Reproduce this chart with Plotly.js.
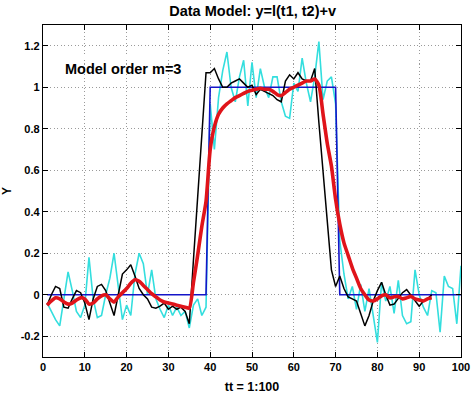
<!DOCTYPE html>
<html>
<head>
<meta charset="utf-8">
<script src="https://cdn.plot.ly/plotly-3.0.1.min.js"></script>
<style>
html,body{margin:0;padding:0;background:#fff;}
#chart{width:474px;height:394px;}
</style>
</head>
<body>
<div id="chart"></div>
<script>
// sample index tt = 1:100
var tt = Array.from({length: 100}, function (_, i) { return i + 1; });

// ideal step signal l(t1, t2)
var ideal = [
  0,0,0,0,0,0,0,0,0,0, 0,0,0,0,0,0,0,0,0,0,
  0,0,0,0,0,0,0,0,0,0, 0,0,0,0,0,0,0,0,0,1,
  1,1,1,1,1,1,1,1,1,1, 1,1,1,1,1,1,1,1,1,1,
  1,1,1,1,1,1,1,1,1,1, 0,0,0,0,0,0,0,0,0,0,
  0,0,0,0,0,0,0,0,0,0, 0,0,0,0,0,0,0,0,0,0
];

// noisy measurement y
var noisy = [
  -0.04,-0.08,-0.12,-0.15,-0.02, 0.11, 0.02,-0.08,-0.11,-0.05,
   0.18,-0.02,-0.11,-0.10, 0.00, 0.08, 0.20, 0.05,-0.12,-0.05,
  -0.10, 0.10, 0.20, 0.15, 0.00, 0.12,-0.02,-0.07,-0.11,-0.05,
  -0.10,-0.06,-0.10,-0.08,-0.16,-0.05,-0.02,-0.10,-0.06, 0.92,
   0.70, 0.95, 1.08, 1.17, 1.00, 0.93, 1.05, 1.13, 0.91, 1.12,
   0.95, 1.09, 1.00, 0.95, 1.05, 1.05, 0.93, 0.86, 0.85, 1.02,
   0.98, 1.14, 1.02, 0.93, 1.05, 1.22, 0.94, 1.03, 1.05, 0.92,
   0.26, 0.10,-0.02, 0.04,-0.07, 0.05,-0.08, 0.03,-0.10,-0.23,
   0.06,-0.03, 0.04,-0.09, 0.07,-0.10,-0.14,-0.13, 0.12, 0.00,
  -0.06,-0.10, 0.02, 0.01,-0.18, 0.09, 0.04, 0.03,-0.14, 0.14
];

// first estimate (black)
var estimate = [
  -0.05, 0.00, 0.04, 0.03,-0.06,-0.065,-0.02, 0.02, 0.01,-0.04,
  -0.12,-0.02, 0.04, 0.05, 0.02,-0.04,-0.10, 0.00, 0.10, 0.12,
   0.145, 0.09, 0.03, 0.00,-0.02,-0.06,-0.065,-0.055,-0.04,-0.07,
  -0.055,-0.07,-0.06,-0.08,-0.14, 0.17, 0.48, 0.78, 1.07, 1.07,
   1.09, 1.04, 1.00, 1.00, 1.02, 1.03, 1.04, 1.02, 1.00, 1.01,
   0.965, 0.99, 0.98, 0.97, 0.96, 0.94, 0.93, 1.03, 1.06, 1.04,
   1.07, 1.04, 1.03, 1.03, 1.09, 0.83, 0.60, 0.35, 0.12, 0.04,
   0.09, 0.03,-0.01,-0.02,-0.03,-0.09,-0.15,-0.10,-0.03, 0.02,
   0.06, 0.00,-0.05,-0.045,-0.02, 0.01, 0.025, 0.00,-0.03,-0.055,
  -0.03,-0.02, 0.00
];

// model output, order m=3 (red)
var model = [
  -0.05,-0.03,-0.015,-0.02,-0.035,-0.045,-0.04,-0.025,-0.015,-0.02,
  -0.045,-0.04,-0.02,-0.005, 0.00,-0.02,-0.035,-0.01, 0.01, 0.03,
   0.055, 0.072, 0.065, 0.045, 0.025, 0.005,-0.01,-0.025,-0.035,-0.04,
  -0.045,-0.05,-0.055,-0.06,-0.064, 0.06, 0.19, 0.33, 0.45, 0.70,
   0.81, 0.87, 0.90, 0.92, 0.935, 0.95, 0.96, 0.97, 0.98, 0.985,
   0.99, 0.995, 0.99, 0.99, 0.98, 0.965, 0.96, 0.975, 0.99, 1.00,
   1.01, 1.02, 1.03, 1.03, 1.04, 1.01, 0.87, 0.73, 0.62, 0.46,
   0.34, 0.25, 0.19, 0.13, 0.08, 0.03, 0.00,-0.025,-0.03,-0.02,
  -0.005, 0.00,-0.015,-0.01,-0.008,-0.02,-0.015,-0.008,-0.02,-0.025,
  -0.03,-0.02,-0.015
];

var xTicks = [0,10,20,30,40,50,60,70,80,90,100];
var xTickText = ['0','10','20','30','40','50','60','70','80','90','100'];
var yTicks = [-0.2,0,0.2,0.4,0.6,0.8,1,1.2];
var yTickText = ['-0.2','0','0.2','0.4','0.6','0.8','1','1.2'];

var FONT = 'Liberation Sans, Arial, sans-serif';
function bold(s) { return '<b>' + s + '</b>'; }

var traces = [
  {x: tt, y: noisy, type: 'scatter', mode: 'lines', line: {color: '#33dede', width: 1.6}, hoverinfo: 'skip'},
  {x: tt, y: ideal, type: 'scatter', mode: 'lines', line: {color: '#1515c8', width: 1.6}, hoverinfo: 'skip'},
  {x: tt.slice(0, estimate.length), y: estimate, type: 'scatter', mode: 'lines', line: {color: '#000000', width: 1.5}, hoverinfo: 'skip'},
  {x: tt.slice(0, model.length), y: model, type: 'scatter', mode: 'lines', line: {color: '#e0141a', width: 3.6, shape: 'spline', smoothing: 0.6}, hoverinfo: 'skip'}
];

var axisCommon = {
  showline: true, linecolor: '#000', linewidth: 1.2, mirror: 'ticks',
  ticks: 'inside', ticklen: 5, tickcolor: '#000',
  showgrid: true, gridcolor: '#9a9a9a', griddash: '1px,2.5px', gridwidth: 1,
  zeroline: false,
  tickfont: {family: FONT, size: 11, color: '#000'}
};

var layout = {
  width: 474, height: 394,
  margin: {l: 43, r: 13, t: 25, b: 37},
  paper_bgcolor: '#fff', plot_bgcolor: '#fff',
  showlegend: false,
  title: {text: bold('Data Model: y=l(t1, t2)+v'), font: {family: FONT, size: 14.5, color: '#000'},
          x: 0.533, xanchor: 'center', y: 0.972, yanchor: 'middle'},
  xaxis: Object.assign({}, axisCommon, {
    range: [0, 100], tickvals: xTicks, ticktext: xTickText.map(bold),
    title: {text: bold('tt = 1:100'), font: {family: FONT, size: 12.5, color: '#000'}, standoff: 9}
  }),
  yaxis: Object.assign({}, axisCommon, {
    range: [-0.3, 1.3], tickvals: yTicks, ticktext: yTickText.map(bold),
    title: {text: bold('Y'), font: {family: FONT, size: 12, color: '#000'}, standoff: 9}
  }),
  annotations: [{
    text: bold('Model order m=3'), xref: 'x', yref: 'y', x: 4.9, y: 1.089,
    xanchor: 'left', yanchor: 'middle', showarrow: false,
    font: {family: FONT, size: 14.5, color: '#000'}
  }]
};

Plotly.newPlot('chart', traces, layout, {displayModeBar: false, staticPlot: true});
</script>
</body>
</html>
